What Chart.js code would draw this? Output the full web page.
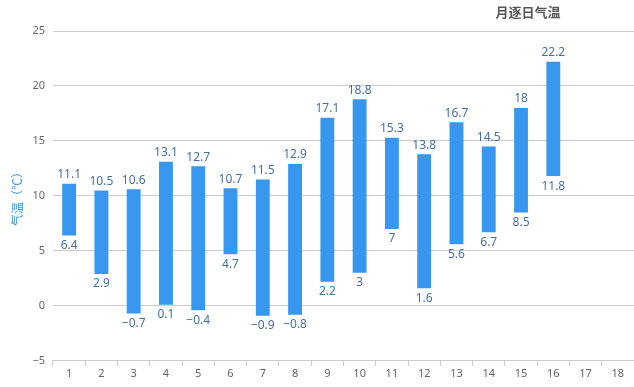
<!DOCTYPE html>
<html>
<head>
<meta charset="utf-8">
<script src="https://cdn.jsdelivr.net/npm/chart.js@4"></script>
<style>
  html, body { margin: 0; padding: 0; background: #fff; }
  #wrap { width: 634px; height: 387px; }
</style>
</head>
<body>
<div id="wrap"><canvas id="tempChart"></canvas></div>
<script>
// 日期 1..18（图表右侧被裁切）
const days = ['1', '2', '3', '4', '5', '6', '7', '8', '9', '10', '11', '12', '13', '14', '15', '16', '17', '18'];
const lowTemps = [6.4, 2.9, -0.7, 0.1, -0.4, 4.7, -0.9, -0.8, 2.2, 3, 7, 1.6, 5.6, 6.7, 8.5, 11.8, null, null];
const highTemps = [11.1, 10.5, 10.6, 13.1, 12.7, 10.7, 11.5, 12.9, 17.1, 18.8, 15.3, 13.8, 16.7, 14.5, 18, 22.2, null, null];
const yTicks = [-5, 0, 5, 10, 15, 20, 25];

const ranges = days.map((d, i) => lowTemps[i] == null ? null : [lowTemps[i], highTemps[i]]);

const numFont = '"Noto Sans", "DejaVu Sans", sans-serif';
const cjkFont = '"Noto Sans CJK SC", sans-serif';

// 在柱子上下标注最高/最低气温，并画右上角标题
const rangeLabels = {
    id: 'rangeLabels',
    afterDatasetsDraw(chart) {
        const ctx = chart.ctx;
        const meta = chart.getDatasetMeta(0);
        ctx.save();
        ctx.font = '12px ' + numFont;
        ctx.fillStyle = '#4570a6';
        ctx.textAlign = 'center';
        meta.data.forEach((bar, i) => {
            if (lowTemps[i] == null) return;
            const top = Math.min(bar.y, bar.base);
            const bottom = Math.max(bar.y, bar.base);
            ctx.textBaseline = 'bottom';
            ctx.fillText(String(highTemps[i]), bar.x, top - 3);
            ctx.textBaseline = 'top';
            ctx.fillText(String(lowTemps[i]).replace('-', '−'), bar.x, bottom + 4);
        });
        ctx.font = 'bold 13px ' + cjkFont;
        ctx.fillStyle = '#555';
        ctx.textAlign = 'center';
        ctx.textBaseline = 'middle';
        ctx.fillText('月逐日气温', chart.width * 0.833, 12);
        ctx.restore();
    }
};

const ctx1 = document.getElementById('tempChart').getContext('2d');
const tempChart = new Chart(ctx1, {
    type: 'bar',
    data: {
        labels: days,
        datasets: [{
            label: '气温',
            data: ranges,
            backgroundColor: '#3797ee',
            borderWidth: 0,
            borderSkipped: false,
            barPercentage: 0.43,
            categoryPercentage: 1
        }]
    },
    options: {
        responsive: true,
        maintainAspectRatio: false,
        animation: false,
        layout: {
            padding: { top: 31, right: 0, left: 10, bottom: 6 }
        },
        plugins: {
            legend: { display: false },
            tooltip: { enabled: false }
        },
        scales: {
            x: {
                grid: {
                    display: true,
                    drawOnChartArea: false,
                    drawTicks: true,
                    tickLength: 5,
                    color: '#ccc',
                    offset: true
                },
                border: { color: '#ccc' },
                ticks: {
                    color: '#666',
                    font: { size: 11, family: numFont },
                    maxRotation: 0,
                    autoSkip: false,
                    padding: 1
                }
            },
            y: {
                min: yTicks[0],
                max: yTicks[yTicks.length - 1],
                afterBuildTicks: (axis) => {
                    axis.ticks = yTicks.map(v => ({ value: v }));
                },
                grid: {
                    color: '#ccc',
                    drawTicks: true,
                    tickLength: 6,
                    tickColor: '#fff'
                },
                border: { display: false },
                ticks: {
                    color: '#666',
                    font: { size: 11, family: numFont },
                    padding: 2,
                    callback: (v) => String(v).replace('-', '−')
                },
                title: {
                    display: true,
                    text: '气温（℃）',
                    color: '#3797ee',
                    font: { size: 12, family: cjkFont },
                    padding: { top: 0, bottom: 6 }
                }
            }
        }
    },
    plugins: [rangeLabels]
});
</script>
</body>
</html>
